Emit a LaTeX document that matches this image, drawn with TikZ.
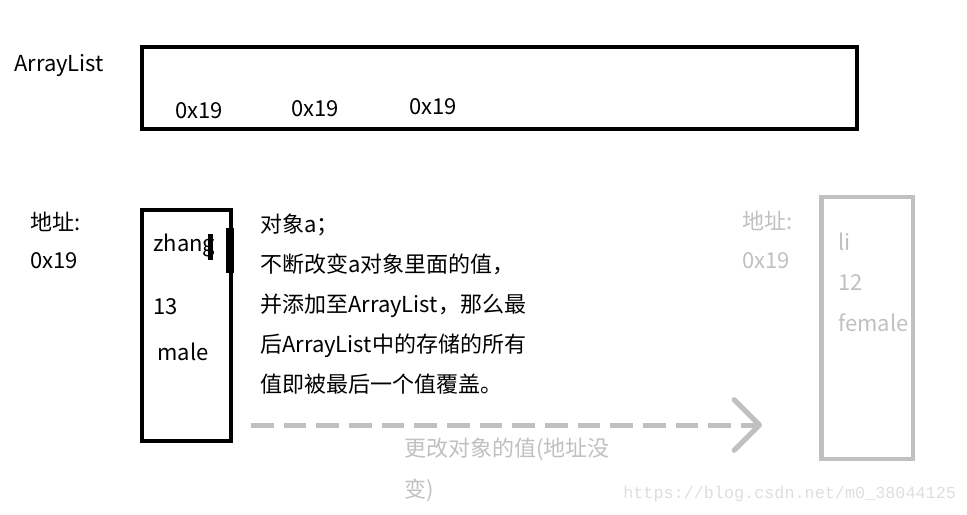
\documentclass[tikz,border=0pt]{standalone}
\usepackage{fontspec}
\setmainfont{Noto Sans CJK SC}
\newfontfamily\wmfont{Liberation Mono}
\usepackage{tikz}
\usetikzlibrary{arrows.meta}
\definecolor{ghost}{RGB}{192,192,192}
\definecolor{wmgray}{RGB}{222,222,222}

\begin{document}
\begin{tikzpicture}[x=0.75pt,y=0.75pt,yscale=-1,xscale=1,
  txt/.style={anchor=west,inner sep=0pt,font=\fontsize{16.5}{19}\selectfont},
  faded/.style={txt,text=ghost},
  frame/.style={line width=3pt}]
\useasboundingbox (0,0) rectangle (967,514);

%Shape: Rectangle [list]
\draw[frame] (142,46.5) rectangle (857,128.5) ;
%Shape: Rectangle [object a]
\draw[frame] (142,209.5) rectangle (230.5,440.5) ;
%Shape: Rectangle [marks on object a]
\fill (208,234) rectangle (213,260) ;
\fill (226,228) rectangle (234,273) ;
%Shape: Rectangle [object after change]
\draw[ghost,line width=3.5pt] (821.5,197) rectangle (913,459) ;

% Text Node
\node[txt] (arrayListLabel) at (14,66) {ArrayList};
% Text Node
\node[txt] (slotOne) at (175,111) {0x19};
% Text Node
\node[txt] (slotTwo) at (291,109) {0x19};
% Text Node
\node[txt] (slotThree) at (409,107) {0x19};
% Text Node
\node[txt] (addrLabel) at (30,222) {地址:};
% Text Node
\node[txt] (addrValue) at (30,261) {0x19};
% Text Node
\node[txt] (fieldName) at (153,245) {zhang};
% Text Node
\node[txt] (fieldAge) at (153,307) {13};
% Text Node
\node[txt] (fieldSex) at (157,352) {male};
% Text Node
\node[txt,align=left,font=\fontsize{16.5}{30}\selectfont] (noteText) at (260,304)
  {对象a；\\不断改变a对象里面的值，\\并添加至ArrayList，那么最\\后ArrayList中的存储的所有\\值即被最后一个值覆盖。};
% Text Node
\node[faded] (newAddrLabel) at (742,221) {地址:};
% Text Node
\node[faded] (newAddrValue) at (742,261) {0x19};
% Text Node
\node[faded] (newName) at (838,242) {li};
% Text Node
\node[faded] (newAge) at (838,283) {12};
% Text Node
\node[faded] (newSex) at (838,323) {female};
% Text Node
\node[faded,align=left,font=\fontsize{16.5}{31}\selectfont] (changeNote) at (404,470)
  {更改对象的值(地址没\\变)};
% Text Node
\node[anchor=west,inner sep=0pt,text=wmgray,font=\wmfont\fontsize{12.6}{14}\selectfont] (watermark) at (623,494) {https://blog.csdn.net/m0\_38044125};

%Straight Lines [dashed arrow]
\coordinate (arrowStart) at (251,425);
\coordinate (arrowEnd) at (762,425);
\draw[ghost,line width=3.75pt,dash pattern=on 17pt off 7.5pt,-{Straight Barb[length=19pt,width=38pt,round]}] (arrowStart) -- (arrowEnd) ;

\end{tikzpicture}
\end{document}
